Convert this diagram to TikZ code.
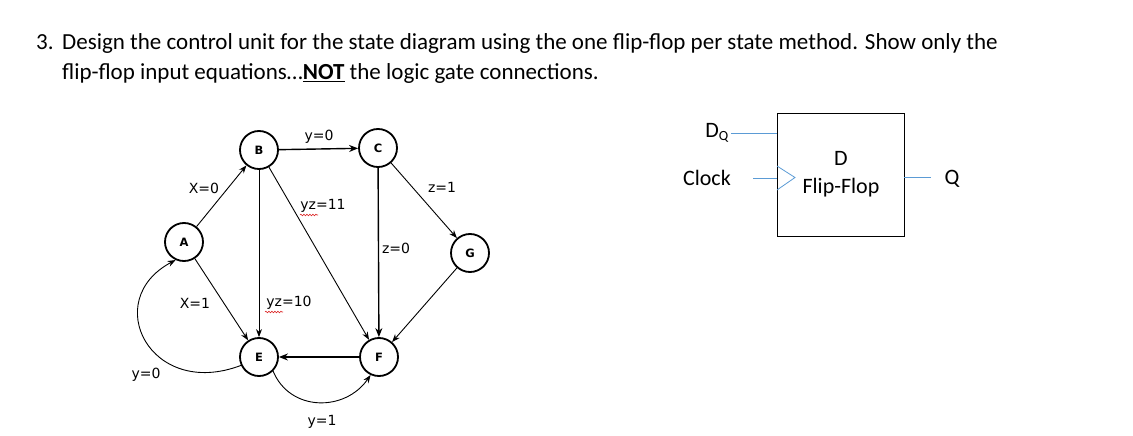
\documentclass[tikz,border=0pt]{standalone}
\usepackage{fontspec}
\setmainfont{Carlito}
\newfontfamily\lblfont{DejaVu Sans}
\usetikzlibrary{arrows.meta,decorations.pathmorphing}
\definecolor{ffblue}{RGB}{91,155,213}
\definecolor{spellred}{RGB}{220,40,40}

\begin{document}
\begin{tikzpicture}[x=1pt,y=-1pt,
	state/.style={circle, draw, line width=1.8pt, minimum size=38pt, inner sep=0pt, font=\lblfont\bfseries\fontsize{11.5}{13}\selectfont},
	trans/.style={line width=0.9pt, -{Stealth[length=8pt,width=6pt]}},
	thick trans/.style={line width=1.4pt, -{Stealth[length=9pt,width=7pt]}},
	lbl/.style={font=\lblfont\fontsize{14}{16}\selectfont, inner sep=1pt},
	ffwire/.style={draw=ffblue, line width=0.8pt},
	fftext/.style={font=\fontsize{22}{26}\selectfont, inner sep=0pt},
	qtext/.style={font=\fontsize{23}{27}\selectfont, inner sep=0pt}]
			%%%%% START %%%%%
			\useasboundingbox (0, 0) rectangle (1133, 436);
			
			\node[qtext, anchor=base west] (num) at (36, 50) {3.};
			\node[qtext, anchor=base west] (line1) at (62, 50) {Design the control unit for the state diagram using the one flip-flop per state method. Show only the};
			\node[qtext, anchor=base west] (line2) at (62, 80) {flip-flop input equations\dots\underline{\textbf{NOT}} the logic gate connections.};
			
			\node[state] (A) at (184, 242) {A};
			\node[state] (B) at (259, 150) {B};
			\node[state] (C) at (378, 148) {C};
			\node[state] (G) at (470, 253) {G};
			\node[state] (E) at (259, 357) {E};
			\node[state] (F) at (379, 357) {F};
			
			\draw[trans] (A) -- (B);
			\draw[thick trans] (B) -- (C);
			\draw[trans] (B) -- (E);
			\draw[trans] (B) -- (F);
			\draw[thick trans] (C) -- (F);
			\draw[trans] (C) -- (G);
			\draw[trans] (G) -- (F);
			\draw[trans] (A) -- (E);
			\draw[thick trans] (F) -- (E);
			\draw[trans] (E.205) .. controls (150, 400) and (100, 300) .. (A.245);
			\draw[trans] (E.315) .. controls (290, 412) and (345, 412) .. (F.245);
			
			\node[lbl] (lBC) at (319, 137) {y=0};
			\node[lbl] (lAB) at (204, 188) {X=0};
			\node[lbl] (lCG) at (442, 187) {z=1};
			\node[lbl] (lBF) at (323, 206) {yz=11};
			\node[lbl] (lCF) at (396, 248) {z=0};
			\node[lbl] (lAE) at (195, 303) {X=1};
			\node[lbl] (lBE) at (289, 303) {yz=10};
			\node[lbl] (lEA) at (146, 375) {y=0};
			\node[lbl] (lEF) at (322, 422) {y=1};
			
			\draw[spellred, line width=0.6pt, decorate, decoration={snake, amplitude=0.8pt, segment length=3pt}] (300, 215) -- (318, 215);
			\draw[spellred, line width=0.6pt, decorate, decoration={snake, amplitude=0.8pt, segment length=3pt}] (265, 312) -- (283, 312);
			
			%% flip-flop symbol
			\draw[line width=1pt] (777, 113) rectangle (904, 236);
			\node[minimum width=127pt, minimum height=123pt, inner sep=0pt] (ff) at (840.5, 174.5) {};
			\node[fftext] (ffD) at (841, 158) {D};
			\node[fftext] (ffname) at (841, 188) {Flip-Flop};
			
			\node[fftext, anchor=east] (dq) at (729, 133) {D\textsubscript{\fontsize{14}{16}\selectfont Q}};
			\node[fftext, anchor=east] (clk) at (731, 178) {Clock};
			\node[fftext] (q) at (952, 179) {Q};
			
			\coordinate (dqin) at (777, 133);
			\coordinate (clkin) at (777, 178);
			\draw[ffwire] (dq.east) ++(2, 0) -- (dqin);
			\draw[ffwire] (753, 178) -- (clkin);
			\draw[ffwire] (777, 166) -- (795, 177.5) -- (777, 190);
			\draw[ffwire] (904, 177) -- (931, 177);
			
			%%%%% END %%%%%
\end{tikzpicture}
\end{document}
